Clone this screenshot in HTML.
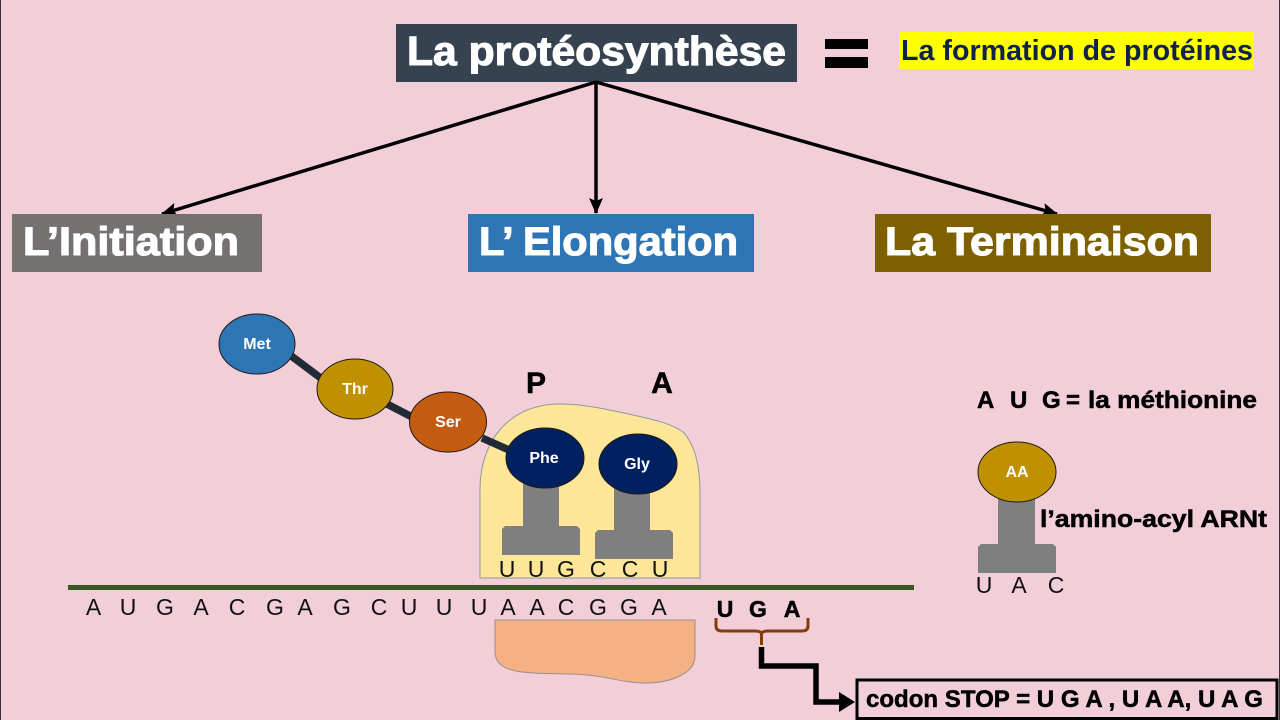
<!DOCTYPE html>
<html lang="fr"><head><meta charset="utf-8"><title>La protéosynthèse</title>
<style>
html,body{margin:0;padding:0;background:#f2ced8;width:1280px;height:720px;overflow:hidden}
svg{display:block}
text{font-family:"Liberation Sans",sans-serif}
.h{font-weight:700;fill:#fff;stroke:#fff;stroke-width:1.1}
.b{font-weight:700;fill:#000;stroke:#000;stroke-width:.5}
.n{font-size:23px;fill:#111;text-anchor:middle}
.e{font-size:16px;font-weight:700;fill:#fff;text-anchor:middle}
</style></head><body>
<svg width="1280" height="720" viewBox="0 0 1280 720" xmlns="http://www.w3.org/2000/svg">
<defs><marker id="a" markerUnits="userSpaceOnUse" markerWidth="16" markerHeight="14" refX="15" refY="7" orient="auto"><path d="M0 0L16 7L0 14L3 7Z" fill="#000"/></marker></defs>
<rect width="1280" height="720" fill="#f2ced8"/>
<rect x="0" y="0" width="1" height="720" fill="#3a3035"/>
<rect x="1279" y="0" width="1" height="720" fill="#3a3035"/>

<rect x="396" y="24" width="401" height="58" fill="#36424f"/>
<text x="407" y="65" class="h" font-size="41" textLength="379" lengthAdjust="spacingAndGlyphs">La protéosynthèse</text>
<rect x="825" y="39" width="43" height="10" fill="#000"/>
<rect x="825" y="57" width="43" height="11" fill="#000"/>
<rect x="899" y="32" width="355" height="37" fill="#ffff00"/>
<text x="901" y="60" font-size="29" font-weight="700" fill="#10224a" textLength="352" lengthAdjust="spacingAndGlyphs">La formation de protéines</text>

<g stroke="#000" stroke-width="3.500" fill="none">
<line x1="596" y1="82" x2="162" y2="214" marker-end="url(#a)"/>
<line x1="596" y1="82" x2="596" y2="213" marker-end="url(#a)"/>
<line x1="596" y1="82" x2="1057" y2="214" marker-end="url(#a)"/>
</g>

<rect x="12" y="214" width="250" height="58" fill="#767171"/>
<text x="23" y="255" class="h" font-size="40" textLength="216" lengthAdjust="spacingAndGlyphs">L’Initiation</text>
<rect x="468" y="214" width="286" height="58" fill="#2e75b6"/>
<text x="479" y="255" class="h" font-size="40" textLength="259" lengthAdjust="spacingAndGlyphs">L’ Elongation</text>
<rect x="875" y="214" width="336" height="58" fill="#7f6000"/>
<text x="885" y="255" class="h" font-size="40" textLength="314" lengthAdjust="spacingAndGlyphs">La Terminaison</text>

<path d="M480 578V490C480 440 510 404 560 404C585 404 610 410 633 415C655 420 670 423 683 432C695 445 700 465 700 495V578Z" fill="#ffe699" stroke="#8f9aa0" stroke-width="1"/>

<g stroke="#222a35" stroke-width="7.500">
<line x1="290" y1="355" x2="322" y2="379"/>
<line x1="385" y1="403" x2="412" y2="417"/>
<line x1="482" y1="438" x2="518" y2="454"/>
</g>

<g fill="#7f7f7f">
<rect x="523" y="480" width="36" height="48"/>
<path d="M502 555V529L505 526H577L580 529V555Z"/>
<rect x="614" y="485" width="36" height="47"/>
<path d="M595 559V533L598 530H670L673 533V559Z"/>
<rect x="998" y="495" width="37" height="50"/>
<path d="M978 573V547L981 544H1053L1056 547V573Z"/>
</g>

<g stroke="#1f1a10" stroke-width="1">
<ellipse cx="257" cy="344" rx="38" ry="30" fill="#2e75b6"/>
<ellipse cx="355" cy="389" rx="38" ry="30" fill="#bf9000"/>
<ellipse cx="448" cy="422" rx="38.500" ry="30" fill="#c55a11"/>
<ellipse cx="545" cy="458" rx="39" ry="30" fill="#002060"/>
<ellipse cx="638" cy="464" rx="39" ry="30" fill="#002060"/>
<ellipse cx="1017" cy="472" rx="39" ry="30" fill="#bf9000"/>
</g>
<text x="257" y="349" class="e">Met</text>
<text x="355" y="394" class="e">Thr</text>
<text x="448" y="427" class="e">Ser</text>
<text x="544" y="463" class="e">Phe</text>
<text x="637" y="469" class="e">Gly</text>
<text x="1017" y="477" class="e">AA</text>

<text x="536" y="393" class="b" font-size="30" text-anchor="middle">P</text>
<text x="662" y="393" class="b" font-size="30" text-anchor="middle">A</text>

<text class="n" y="577"><tspan x="507">U</tspan><tspan x="536">U</tspan><tspan x="566">G</tspan><tspan x="598">C</tspan><tspan x="630">C</tspan><tspan x="660">U</tspan></text>

<rect x="68" y="585" width="846" height="5" fill="#385723"/>
<text class="n" y="615"><tspan x="93.500">A</tspan><tspan x="128">U</tspan><tspan x="165">G</tspan><tspan x="201">A</tspan><tspan x="237">C</tspan><tspan x="275">G</tspan><tspan x="305">A</tspan><tspan x="342">G</tspan><tspan x="379">C</tspan><tspan x="409">U</tspan><tspan x="444">U</tspan><tspan x="479">U</tspan><tspan x="508">A</tspan><tspan x="537">A</tspan><tspan x="566">C</tspan><tspan x="598">G</tspan><tspan x="629">G</tspan><tspan x="659">A</tspan></text>

<path d="M495 620H695V656C695 674 670 683 645 683C620 683 608 675 570 674C530 673 495 675 495 652Z" fill="#f4b183" stroke="#9a9090" stroke-width="1"/>

<text class="b" font-size="23" text-anchor="middle" y="617"><tspan x="725">U</tspan><tspan x="758">G</tspan><tspan x="792">A</tspan></text>
<path d="M716 618V626Q716 631 722 631H755Q761 631 761.500 634V645M761.500 634Q762 631 768 631H802Q808 631 808 626V618" fill="none" stroke="#843c0c" stroke-width="3"/>

<path d="M761.500 647V666H816V702H842" fill="none" stroke="#000" stroke-width="5.500"/>
<path d="M839 692L855 702L839 712Z" fill="#000"/>
<rect x="857" y="680" width="420" height="38.500" fill="none" stroke="#000" stroke-width="3"/>
<text x="866" y="707" class="b" font-size="24" textLength="397" lengthAdjust="spacingAndGlyphs">codon STOP = U G A  , U A A, U A G</text>

<text class="b" font-size="24" y="408"><tspan x="977">A</tspan><tspan x="1010">U</tspan><tspan x="1042">G</tspan><tspan x="1066">=</tspan></text>
<text x="1088" y="408" class="b" font-size="24" textLength="169" lengthAdjust="spacingAndGlyphs">la méthionine</text>
<text x="1040" y="527" class="b" font-size="24" textLength="227" lengthAdjust="spacingAndGlyphs">l’amino-acyl ARNt</text>
<text class="n" y="593"><tspan x="984">U</tspan><tspan x="1019">A</tspan><tspan x="1056">C</tspan></text>
</svg>
</body></html>
